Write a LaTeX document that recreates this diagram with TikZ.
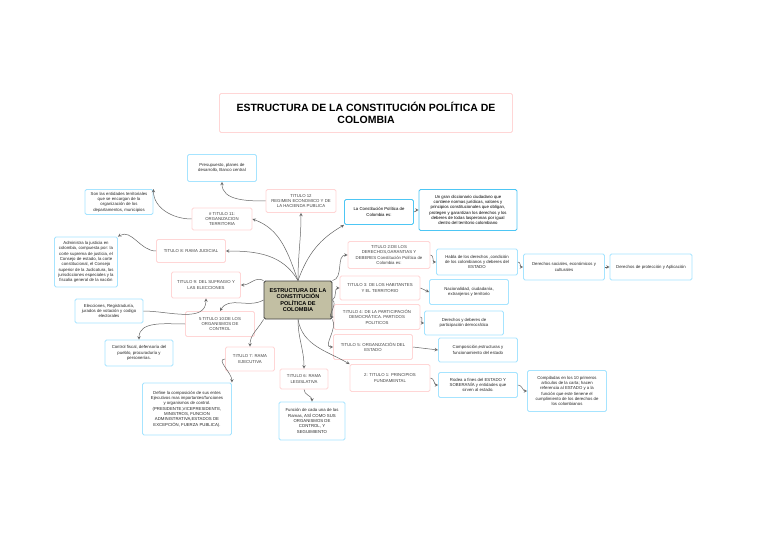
\documentclass[tikz,border=0pt]{standalone}
\usepackage{fontspec}
\setmainfont{Liberation Sans}
\begin{document}
\begin{tikzpicture}[x=1pt,y=-1pt,
 box/.style={draw,rounded corners=1.5pt,line width=0.9pt,align=center,font=\fontsize{4.3}{5.3}\selectfont,inner sep=2pt},
 pk/.style={box,draw=pink!80!red!40,text=black!75},
 bl/.style={box,draw=blue!30!cyan!35,text=black!85},
 cy/.style={box,draw=cyan!70},
 arr/.style={->,>=stealth,draw=black!60,line width=0.5pt}]
\useasboundingbox (0,0) rectangle (768,548);
\fill[white] (0,0) rectangle (768,548);
\node[pk,minimum width=293,minimum height=39,font=\bfseries\fontsize{10.5}{12.5}\selectfont,text=black] (title) at (366,113) {ESTRUCTURA DE LA CONSTITUCIÓN POLÍTICA DE\\COLOMBIA};
\node[box,fill=brown!35!yellow!25!gray!60,draw=black!75,minimum width=68,minimum height=38,font=\bfseries\fontsize{5.6}{6.6}\selectfont] (c) at (298,300) {ESTRUCTURA DE LA\\CONSTITUCIÓN\\POLÍTICA DE\\COLOMBIA};
\node[bl,minimum width=69,minimum height=27] (presup) at (222,168) {Presupuesto, planes de\\desarrollo, Banco central};
\node[pk,minimum width=70,minimum height=23] (t12) at (301,201) {TITULO 12\\REGIMEN ECONOMICO Y DE\\LA HACIENDA PUBLICA};
\node[bl,minimum width=68,minimum height=25] (ent) at (119,202) {Son las entidades territoriales\\que se encargan de la\\organización de los\\departamentos, municipios};
\node[pk,minimum width=60,minimum height=22] (t11) at (222,219) {\# TITULO 11:\\ORGANIZACION\\TERRITORIA};
\node[bl,minimum width=63,minimum height=50] (adm) at (86,262) {Administra la justicia en\\colombia, compuesta por: la\\corte suprema de justicia, el\\Consejo de estado, la corte\\constitucional, el Consejo\\superior de la Judicatura, las\\jurisdicciones especiales y la\\fiscalia general de la nación};
\node[pk,minimum width=69,minimum height=23] (t8) at (191,251) {TITULO 8: RAMA JUDICIAL};
\node[pk,minimum width=69,minimum height=26] (t9) at (206,285) {TITULO 9: DEL SUFRAGIO Y\\LAS ELECCIONES};
\node[bl,minimum width=68,minimum height=24] (elec) at (109,311) {Elecciones, Registraduría,\\jurados de votación y codigo\\electorales};
\node[pk,minimum width=69,minimum height=25] (t10) at (220,324) {5 TITULO 10:DE LOS\\ORGANISMOS DE\\CONTROL};
\node[bl,minimum width=68,minimum height=26] (fisc) at (139,353) {Control fiscal, defensoría del\\pueblo, procuraduría y\\personerías.};
\node[pk,minimum width=49,minimum height=24] (t7) at (250,359) {TITULO 7: RAMA\\EJECUTIVA};
\node[bl,minimum width=89,minimum height=52] (def) at (187,409) {Define la composición de sus entes\\Ejecutivos mas importantes/funciones\\y organismos de control.\\(PRESIDENTE,VICEPRESIDENTE,\\MINISTROS, FUNCION\\ADMINISTRATIVA,ESTADOS DE\\EXCEPCIÓN, FUERZA PUBLICA).};
\node[pk,minimum width=48,minimum height=20] (t6) at (304,379) {TITULO 6: RAMA\\LEGISLATIVA};
\node[bl,minimum width=66,minimum height=38] (fun) at (312,421) {Función de cada una de las\\Ramas, ASÍ COMO SUS\\ORGANISMOS DE\\CONTROL, Y\\SEGUIMIENTO};
\node[cy,minimum width=69,minimum height=25] (ces) at (379,212) {La Constitución Política de\\Colombia es:};
\node[cy,minimum width=98,minimum height=41] (gran) at (468,210) {Un gran diccionario ciudadano que\\contiene normas jurídicas, valores y\\principios constitucionales que obligan,\\protegen y garantizan los derechos y los\\deberes de todas lasperonas por igual\\dentro del territorio colombiano};
\node[pk,minimum width=82,minimum height=27] (t2) at (389,255) {TITULO 2:DE LOS\\DERECHOS,GARANTIAS Y\\DEBERES Constitución Política de\\Colombia es:};
\node[bl,minimum width=81,minimum height=26] (habla) at (477,262) {Habla de los derechos ,condición\\de los colombianos y deberes del\\ESTADO};
\node[bl,minimum width=81,minimum height=26] (soc) at (564,267) {Derechos sociales, económicos y\\culturales};
\node[bl,minimum width=82,minimum height=26] (prot) at (651,267) {Derechos de protección y Aplicación};
\node[pk,minimum width=80,minimum height=24] (t3) at (380,288) {TITULO 3: DE LOS HABITANTES\\Y EL TERRITORIO};
\node[bl,minimum width=79,minimum height=25] (nac) at (469,292) {Nacionalidad, ciudadanía,\\extranjeros y territorio};
\node[pk,minimum width=86,minimum height=25] (t4) at (377,317) {TITULO 4: DE LA PARTICIPACIÓN\\DEMOCRÁTICA. PARTIDOS\\POLITICOS};
\node[bl,minimum width=79,minimum height=24] (dd) at (464,323) {Derechos y deberes de\\participación democrática};
\node[pk,minimum width=79,minimum height=25] (t5) at (373,347) {TITULO 5: ORGANIZACIÓN DEL\\ESTADO};
\node[bl,minimum width=79,minimum height=24] (comp) at (478,350) {Composición,estructuras y\\funcionamiento del estado};
\node[pk,minimum width=80,minimum height=27] (t1) at (390,378) {2: TITULO 1: PRINCIPIOS\\FUNDAMENTAL};
\node[bl,minimum width=79,minimum height=25] (rod) at (478,385) {Rodea a fines del ESTADO Y\\SOBERANÍA y entidades que\\sirven al estado.};
\node[bl,minimum width=79,minimum height=41] (cmp) at (567,391) {Compiladas en los 10 primeros\\articulos de la carta; hacen\\referencia al ESTADO y a la\\función que este tienene el\\cumplimiento de los derechos de\\los colombianos};
% center edges
\draw[arr] (c.north) to[out=90,in=-90] (t12.south);
\draw[arr] (c.north) to[out=110,in=-20] (t11.east);
\draw[arr] (c.north) to[out=120,in=0] (t8.east);
\draw[arr] (c.north west) to[out=150,in=0] (t9.east);
\draw[arr] (c.north) to[out=70,in=-150] (ces.south west);
\draw[arr] (c.north east) to[out=10,in=180] (t2.west);
\draw[arr] (c.east) to[out=30,in=180] (t3.west);
\draw[arr] (c.east) to[out=-30,in=180] (t4.west);
\draw[arr] (c.south east) to[out=-60,in=180] (t5.west);
\draw[arr] (c.south) to[out=-80,in=150] (t1.north west);
\draw[arr] (c.south) to[out=-90,in=90] (t6.north);
\draw[arr] (c.south west) to[out=-120,in=90] (t7.north);
\draw[arr] (c.west) to[out=-150,in=60] (t10.north);
% notes
\draw[arr] (t12.west) to[out=180,in=-90] (presup.south);
\draw[arr] (t11.west) to[out=180,in=-90] (ent.north east);
\draw[arr] (t8.west) to[out=180,in=30] (adm.north east);
\draw[arr] (elec.east) to[out=0,in=-90] (t9.south);
\draw[arr] (t10.west) to[out=180,in=90] (fisc.north);
\draw[arr] (t7.west) to[out=180,in=90] (def.north east);
\draw[arr] (t6.south) to[out=-90,in=90] (fun.north);
\draw[arr] (ces.east) to[out=0,in=180] (gran.west);
\draw[arr] (t2.east) to[out=0,in=180] (habla.west);
\draw[arr] (habla.east) to[out=0,in=180] (soc.west);
\draw[arr] (soc.east) -- (prot.west);
\draw[arr] (t3.east) -- (nac.west);
\draw[arr] (t4.east) to[out=0,in=180] (dd.west);
\draw[arr] (t5.east) -- (comp.west);
\draw[arr] (t1.east) to[out=0,in=180] (rod.west);
\draw[arr] (rod.east) to[out=0,in=180] (cmp.west);
\end{tikzpicture}
\end{document}
